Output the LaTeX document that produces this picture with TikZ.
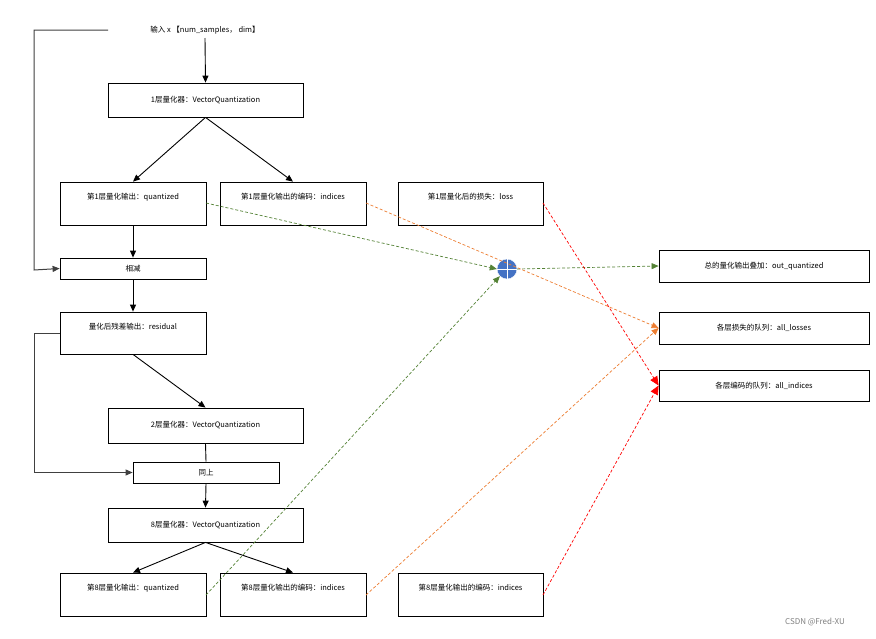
\documentclass[tikz,border=0pt]{standalone}
\usepackage{fontspec}
\setmainfont{Noto Sans CJK SC}
\usetikzlibrary{arrows.meta,calc}
\begin{document}
\begin{tikzpicture}[x=1pt,y=-1pt,
  bx/.style={draw,line width=0.8pt,minimum height=#1,inner sep=0pt,font=\fontsize{7.5}{9}\selectfont},
  arr/.style={-{Triangle[length=7pt,width=6pt]},line width=0.9pt},
  dsh/.style={dashed,dash pattern=on 3pt off 2pt,line width=0.7pt,-{Triangle[length=7pt,width=6pt]}},
  t/.style={font=\fontsize{7.5}{9}\selectfont,inner sep=0pt}]
\useasboundingbox (0,0) rectangle (876,638);
\fill[white] (0,0) rectangle (876,638);
\node[t] (in) at (205,30) {输入 x 【num\_samples， dim】};
\coordinate (inL) at (108,30);
\node[draw,line width=0.8pt,minimum width=195pt,minimum height=34pt] (q1) at (205.5,100) {};
\node[t] at (q1) {1层量化器：VectorQuantization};
\node[draw,line width=0.8pt,minimum width=146pt,minimum height=43pt] (qa) at (133,203.5) {};
\node[t] at (133,197) {第1层量化输出：quantized};
\node[draw,line width=0.8pt,minimum width=146pt,minimum height=43pt] (ia) at (293,203.5) {};
\node[t] at (293,197) {第1层量化输出的编码：indices};
\node[draw,line width=0.8pt,minimum width=145pt,minimum height=43pt] (la) at (470.5,203.5) {};
\node[t] at (470.5,197) {第1层量化后的损失：loss};
\node[draw,line width=0.8pt,minimum width=146pt,minimum height=21pt] (sub) at (133,268.5) {};
\node[t] at (sub) {相减};
\node[draw,line width=0.8pt,minimum width=146pt,minimum height=42pt] (res) at (133,333) {};
\node[t] at (133,327) {量化后残差输出：residual};
\node[draw,line width=0.8pt,minimum width=195pt,minimum height=35pt] (q2) at (205.5,425.5) {};
\node[t] at (q2) {2层量化器：VectorQuantization};
\node[draw,line width=0.8pt,minimum width=146pt,minimum height=21pt] (same) at (206,472.5) {};
\node[t] at (same) {同上};
\node[draw,line width=0.8pt,minimum width=195pt,minimum height=34pt] (q8) at (205.5,525) {};
\node[t] at (q8) {8层量化器：VectorQuantization};
\node[draw,line width=0.8pt,minimum width=146pt,minimum height=43pt] (qb) at (133,594.5) {};
\node[t] at (133,588) {第8层量化输出：quantized};
\node[draw,line width=0.8pt,minimum width=146pt,minimum height=43pt] (ib) at (293,594.5) {};
\node[t] at (293,588) {第8层量化输出的编码：indices};
\node[draw,line width=0.8pt,minimum width=145pt,minimum height=43pt] (lb) at (470.5,594.5) {};
\node[t] at (470.5,588) {第8层量化输出的编码：indices};
\node[draw=white,fill={rgb,255:red,68;green,114;blue,196},circle,minimum size=20pt,inner sep=0pt] (plus) at (507,269) {};
\draw[white,line width=0.8pt] (plus.north)--(plus.south) (plus.west)--(plus.east);
\node[draw,line width=0.8pt,minimum width=210pt,minimum height=32pt] (out) at (764,266) {};
\node[t] at (out) {总的量化输出叠加：out\_quantized};
\node[draw,line width=0.8pt,minimum width=210pt,minimum height=32pt] (los) at (764,328) {};
\node[t] at (los) {各层损失的队列：all\_losses};
\node[draw,line width=0.8pt,minimum width=210pt,minimum height=31pt] (idx) at (764,385.5) {};
\node[t] at (idx) {各层编码的队列：all\_indices};
\node[text=gray,font=\fontsize{8}{10}\selectfont] at (815,622) {CSDN @Fred-XU};
% solid
\draw[line width=1pt,black!75,-{Triangle[length=7pt,width=6pt]}] (inL) -- (34,30) -- (34,270) -- (sub.west);
\draw[arr] (205,38) -- (q1.north);
\draw[arr] (q1.south) -- (qa.north);
\draw[arr] (q1.south) -- (ia.north);
\draw[arr] (qa.south) -- (sub.north);
\draw[arr] (sub.south) -- (res.north);
\draw[line width=1pt,black!75,-{Triangle[length=7pt,width=6pt]}] (res.west) -- (34,333) -- (34,472.5) -- (same.west);
\draw[arr] (res.south) -- (q2.north);
\draw[line width=0.9pt] (q2.south) -- (same.north);
\draw[arr] (same.south) -- (q8.north);
\draw[arr] (q8.south) -- (qb.north);
\draw[arr] (q8.south) -- (ib.north);
% dashed
\definecolor{gr}{RGB}{84,130,53}
\definecolor{og}{RGB}{237,125,49}
\draw[dsh,gr] (206,203) -- (plus.west);
\draw[dsh,gr] (206,595) -- (plus.south west);
\draw[dsh,gr] (plus.east) -- (out.west);
\draw[dsh,og] (366,203) -- (los.west);
\draw[dsh,og] (366,595) -- (los.west);
\draw[dsh,red,-{Triangle[length=9pt,width=8pt]}] (543,203) -- (idx.west);
\draw[dsh,red,-{Triangle[length=9pt,width=8pt]}] (543,595) -- (idx.west);
\end{tikzpicture}
\end{document}
